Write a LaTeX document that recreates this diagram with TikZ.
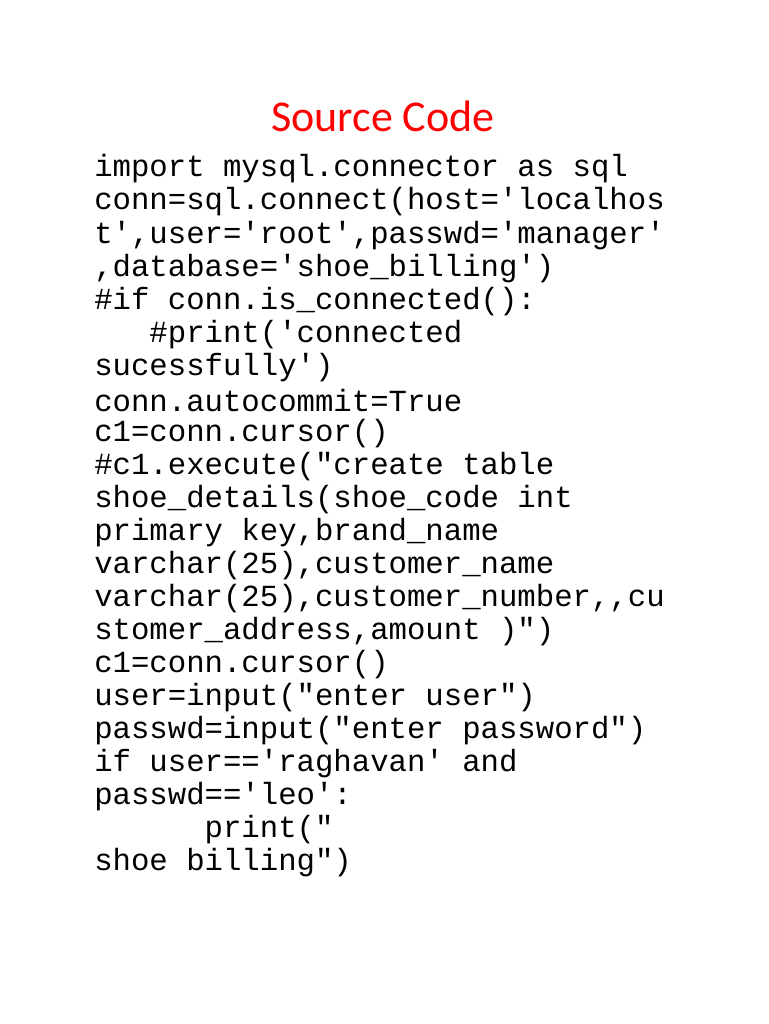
\documentclass[tikz,border=0pt]{standalone}
\usepackage{fontspec}
\newfontfamily\codefont{Liberation Mono}
\newfontfamily\titlefont{Carlito}
\tikzset{codeline/.style={anchor=west,inner sep=0pt,font=\codefont\fontsize{23pt}{25pt}\selectfont}}
\begin{document}
\begin{tikzpicture}[x=0.75pt,y=-0.75pt]
\fill[white] (0,0) rectangle (768,1024);
\node[text=red,font=\titlefont\fontsize{33pt}{36pt}\selectfont] (title) at (383,116) {Source Code};
\def\cw{18.4}
\foreach \i/\ind/\t in {
0/0/{import mysql.connector as sql},
1/0/{conn=sql.connect(host='localhos},
2/0/{t',user='root',passwd='manager'},
3/0/{,database='shoe\_billing')},
4/0/{\#if conn.is\_connected():},
5/3/{\#print('connected},
6/0/{sucessfully')},
7/0/{conn.autocommit=True},
8/0/{c1=conn.cursor()},
9/0/{\#c1.execute("create table},
10/0/{shoe\_details(shoe\_code int},
11/0/{primary key,brand\_name},
12/0/{varchar(25),customer\_name},
13/0/{varchar(25),customer\_number,,cu},
14/0/{stomer\_address,amount )")},
15/0/{c1=conn.cursor()},
16/0/{user=input("enter user")},
17/0/{passwd=input("enter password")},
18/0/{if user=='raghavan' and},
19/0/{passwd=='leo':},
20/6/{print("},
21/0/{shoe billing")}}
{\node[codeline] (l\i) at ({94+\ind*\cw},{169+\i*33.05}) {\t};}
\end{tikzpicture}
\end{document}
